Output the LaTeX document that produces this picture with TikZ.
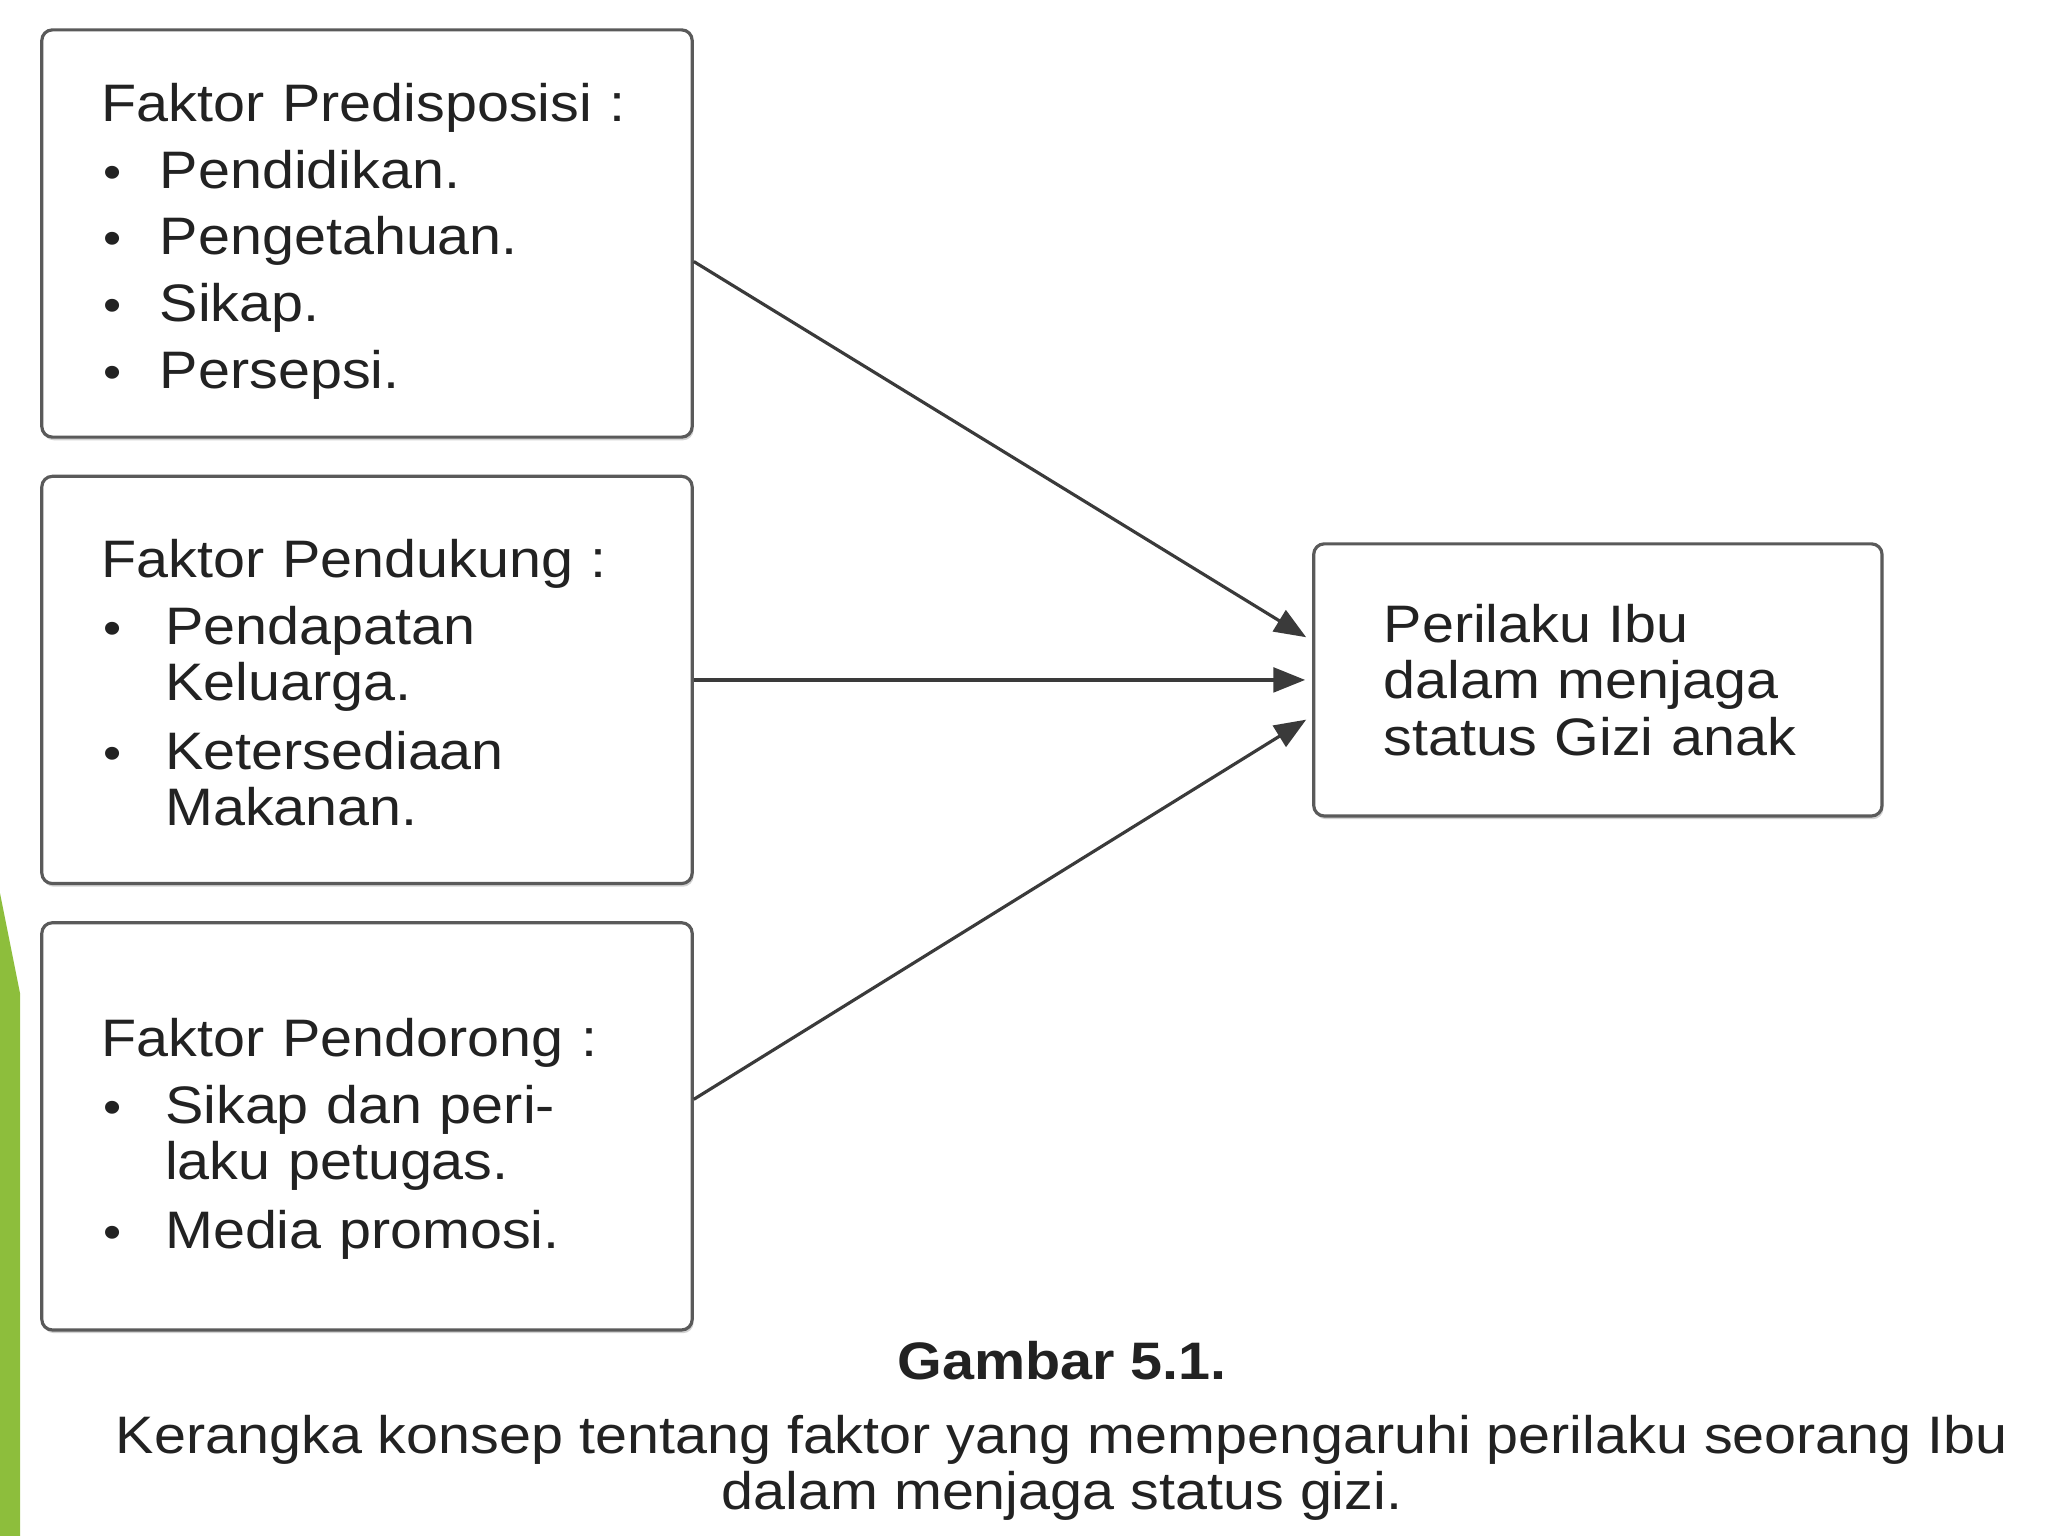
\documentclass[tikz,border=0pt]{standalone}
\usepackage{fontspec}
\setmainfont{Liberation Sans}[FakeStretch=1.09]
\usepackage{tikz}
\usetikzlibrary{arrows.meta,positioning,shadows}
\definecolor{fkline}{HTML}{5A5A5A}
\definecolor{fktext}{HTML}{222222}
\definecolor{fkarrow}{HTML}{3A3A3A}
\definecolor{fkgreen}{HTML}{8DBE3C}
\newcommand{\fkbul}{\hspace*{0.5pt}\scalebox{0.9}{\textbullet}}
\tikzset{
  factor/.style={rectangle, rounded corners=3pt, draw=fkline, line width=0.9pt, fill=white,
                 text=fktext, align=left, font=\fontsize{15}{16}\selectfont,
                 inner xsep=0.6cm, text width=5.3cm, minimum width=6.5cm, minimum height=4.07cm,
                 drop shadow={shadow xshift=0.4pt, shadow yshift=-0.9pt, fill=black!35}},
  behaviour/.style={rectangle, rounded corners=3pt, draw=fkline, line width=0.9pt, fill=white,
                 text=fktext, align=left, font=\fontsize{15}{16}\selectfont,
                 inner xsep=0.7cm, text width=4.28cm, minimum width=5.68cm, minimum height=2.72cm,
                 drop shadow={shadow xshift=0.4pt, shadow yshift=-0.9pt, fill=black!35}},
  capt/.style={text=fktext, align=center, font=\fontsize{15}{16}\selectfont},
  ar/.style={-{Triangle[length=9pt,width=7pt]}, draw=fkarrow, line width=0.9pt, shorten >=0.7mm},
}

\begin{document}
\begin{tikzpicture}[x=0.01cm, y=-0.01cm, node distance=3.6mm]
\useasboundingbox (0,0) rectangle (2048,1536);
\fill[fkgreen] (0,893) -- (20,993) -- (20,1536) -- (0,1536) -- cycle;

\node[factor] (pre) at (367,233.5) {\begin{tabular}{@{}p{16.5pt}@{}l@{}}
\multicolumn{2}{@{}l@{}}{\rule{0pt}{17pt}Faktor Predisposisi :}\\[3pt]
\fkbul & Pendidikan.\\[3pt]
\fkbul & Pengetahuan.\\[3pt]
\fkbul & Sikap.\\[3pt]
\fkbul & Persepsi.
\end{tabular}};
\node[factor,below=of pre] (dukung) {\begin{tabular}{@{}p{18pt}@{}l@{}}
\multicolumn{2}{@{}l@{}}{\rule{0pt}{17pt}Faktor Pendukung :}\\[3pt]
\fkbul & Pendapatan\\
 & Keluarga.\\[3.5pt]
\fkbul & Ketersediaan\\
 & Makanan.
\end{tabular}};
\node[factor,below=of dukung] (dorong) {\begin{tabular}{@{}p{18pt}@{}l@{}}
\multicolumn{2}{@{}l@{}}{\rule{0pt}{19.5pt}Faktor Pendorong :}\\[3pt]
\fkbul & Sikap dan peri-\\
 & laku petugas.\\[3.5pt]
\fkbul & Media promosi.
\end{tabular}};

\node[behaviour,right=6.18cm of dukung] (ibu) {Perilaku Ibu\\dalam menjaga\\status Gizi anak};

\draw[ar] ([yshift=-2.8mm]pre.east) -- ([yshift=3.9mm]ibu.west);
\draw[ar] (dukung.east) -- (ibu.west);
\draw[ar] ([yshift=2.7mm]dorong.east) -- ([yshift=-3.6mm]ibu.west);

\node[capt,font=\fontsize{15}{16}\selectfont\bfseries] (gbr) at (1062,1361) {Gambar 5.1.};
\node[capt] (ket) at (1062,1468) {Kerangka konsep tentang faktor yang mempengaruhi perilaku seorang Ibu\\dalam menjaga status gizi.};
\end{tikzpicture}
\end{document}
